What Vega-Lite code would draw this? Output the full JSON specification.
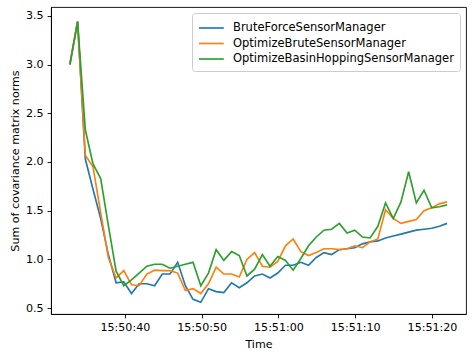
{
  "$schema": "https://vega.github.io/schema/vega-lite/v6.json",
  "width": 415,
  "height": 307,
  "autosize": {"type": "none"},
  "padding": {"left": 51, "top": 7, "right": 8, "bottom": 47},
  "background": "white",
  "config": {
    "font": "DejaVu Sans",
    "view": {"stroke": "black", "strokeWidth": 0.9},
    "axis": {
      "labelFont": "DejaVu Sans", "labelFontSize": 11.1, "labelColor": "black",
      "titleFont": "DejaVu Sans", "titleFontSize": 11.1, "titleFontWeight": "normal", "titleColor": "black",
      "domainColor": "black", "domainWidth": 0.9, "tickColor": "black", "tickWidth": 0.9, "tickSize": 3.9,
      "labelPadding": 4, "grid": false
    }
  },
  "data": {"values": [
    {"t": "2024-01-01T15:50:32.840", "BruteForceSensorManager": 3.00, "OptimizeBruteSensorManager": 3.00, "OptimizeBasinHoppingSensorManager": 3.00},
    {"t": "2024-01-01T15:50:33.840", "BruteForceSensorManager": 3.44, "OptimizeBruteSensorManager": 3.44, "OptimizeBasinHoppingSensorManager": 3.44},
    {"t": "2024-01-01T15:50:34.850", "BruteForceSensorManager": 2.03, "OptimizeBruteSensorManager": 2.07, "OptimizeBasinHoppingSensorManager": 2.33},
    {"t": "2024-01-01T15:50:35.850", "BruteForceSensorManager": 1.72, "OptimizeBruteSensorManager": 1.95, "OptimizeBasinHoppingSensorManager": 1.98},
    {"t": "2024-01-01T15:50:36.850", "BruteForceSensorManager": 1.42, "OptimizeBruteSensorManager": 1.48, "OptimizeBasinHoppingSensorManager": 1.83},
    {"t": "2024-01-01T15:50:37.850", "BruteForceSensorManager": 1.05, "OptimizeBruteSensorManager": 1.02, "OptimizeBasinHoppingSensorManager": 1.35},
    {"t": "2024-01-01T15:50:38.860", "BruteForceSensorManager": 0.76, "OptimizeBruteSensorManager": 0.81, "OptimizeBasinHoppingSensorManager": 0.88},
    {"t": "2024-01-01T15:50:39.860", "BruteForceSensorManager": 0.77, "OptimizeBruteSensorManager": 0.885, "OptimizeBasinHoppingSensorManager": 0.73},
    {"t": "2024-01-01T15:50:40.860", "BruteForceSensorManager": 0.65, "OptimizeBruteSensorManager": 0.74, "OptimizeBasinHoppingSensorManager": 0.79},
    {"t": "2024-01-01T15:50:41.860", "BruteForceSensorManager": 0.75, "OptimizeBruteSensorManager": 0.73, "OptimizeBasinHoppingSensorManager": 0.86},
    {"t": "2024-01-01T15:50:42.870", "BruteForceSensorManager": 0.75, "OptimizeBruteSensorManager": 0.85, "OptimizeBasinHoppingSensorManager": 0.93},
    {"t": "2024-01-01T15:50:43.870", "BruteForceSensorManager": 0.73, "OptimizeBruteSensorManager": 0.89, "OptimizeBasinHoppingSensorManager": 0.95},
    {"t": "2024-01-01T15:50:44.870", "BruteForceSensorManager": 0.85, "OptimizeBruteSensorManager": 0.885, "OptimizeBasinHoppingSensorManager": 0.95},
    {"t": "2024-01-01T15:50:45.880", "BruteForceSensorManager": 0.85, "OptimizeBruteSensorManager": 0.885, "OptimizeBasinHoppingSensorManager": 0.91},
    {"t": "2024-01-01T15:50:46.880", "BruteForceSensorManager": 0.97, "OptimizeBruteSensorManager": 0.86, "OptimizeBasinHoppingSensorManager": 0.93},
    {"t": "2024-01-01T15:50:47.880", "BruteForceSensorManager": 0.73, "OptimizeBruteSensorManager": 0.68, "OptimizeBasinHoppingSensorManager": 0.95},
    {"t": "2024-01-01T15:50:48.880", "BruteForceSensorManager": 0.59, "OptimizeBruteSensorManager": 0.70, "OptimizeBasinHoppingSensorManager": 0.97},
    {"t": "2024-01-01T15:50:49.890", "BruteForceSensorManager": 0.56, "OptimizeBruteSensorManager": 0.65, "OptimizeBasinHoppingSensorManager": 0.73},
    {"t": "2024-01-01T15:50:50.890", "BruteForceSensorManager": 0.70, "OptimizeBruteSensorManager": 0.75, "OptimizeBasinHoppingSensorManager": 0.86},
    {"t": "2024-01-01T15:50:51.890", "BruteForceSensorManager": 0.67, "OptimizeBruteSensorManager": 0.92, "OptimizeBasinHoppingSensorManager": 1.10},
    {"t": "2024-01-01T15:50:52.890", "BruteForceSensorManager": 0.66, "OptimizeBruteSensorManager": 0.85, "OptimizeBasinHoppingSensorManager": 0.99},
    {"t": "2024-01-01T15:50:53.900", "BruteForceSensorManager": 0.76, "OptimizeBruteSensorManager": 0.85, "OptimizeBasinHoppingSensorManager": 1.08},
    {"t": "2024-01-01T15:50:54.900", "BruteForceSensorManager": 0.71, "OptimizeBruteSensorManager": 0.82, "OptimizeBasinHoppingSensorManager": 1.04},
    {"t": "2024-01-01T15:50:55.900", "BruteForceSensorManager": 0.76, "OptimizeBruteSensorManager": 1.00, "OptimizeBasinHoppingSensorManager": 0.83},
    {"t": "2024-01-01T15:50:56.900", "BruteForceSensorManager": 0.83, "OptimizeBruteSensorManager": 1.07, "OptimizeBasinHoppingSensorManager": 0.90},
    {"t": "2024-01-01T15:50:57.910", "BruteForceSensorManager": 0.85, "OptimizeBruteSensorManager": 0.93, "OptimizeBasinHoppingSensorManager": 1.05},
    {"t": "2024-01-01T15:50:58.910", "BruteForceSensorManager": 0.81, "OptimizeBruteSensorManager": 0.92, "OptimizeBasinHoppingSensorManager": 0.93},
    {"t": "2024-01-01T15:50:59.910", "BruteForceSensorManager": 0.86, "OptimizeBruteSensorManager": 0.98, "OptimizeBasinHoppingSensorManager": 1.03},
    {"t": "2024-01-01T15:51:00.920", "BruteForceSensorManager": 0.94, "OptimizeBruteSensorManager": 1.14, "OptimizeBasinHoppingSensorManager": 0.99},
    {"t": "2024-01-01T15:51:01.920", "BruteForceSensorManager": 0.94, "OptimizeBruteSensorManager": 1.21, "OptimizeBasinHoppingSensorManager": 0.89},
    {"t": "2024-01-01T15:51:02.920", "BruteForceSensorManager": 0.97, "OptimizeBruteSensorManager": 1.08, "OptimizeBasinHoppingSensorManager": 1.01},
    {"t": "2024-01-01T15:51:03.920", "BruteForceSensorManager": 0.94, "OptimizeBruteSensorManager": 1.04, "OptimizeBasinHoppingSensorManager": 1.14},
    {"t": "2024-01-01T15:51:04.930", "BruteForceSensorManager": 1.02, "OptimizeBruteSensorManager": 1.07, "OptimizeBasinHoppingSensorManager": 1.23},
    {"t": "2024-01-01T15:51:05.930", "BruteForceSensorManager": 1.07, "OptimizeBruteSensorManager": 1.11, "OptimizeBasinHoppingSensorManager": 1.30},
    {"t": "2024-01-01T15:51:06.930", "BruteForceSensorManager": 1.05, "OptimizeBruteSensorManager": 1.11, "OptimizeBasinHoppingSensorManager": 1.31},
    {"t": "2024-01-01T15:51:07.930", "BruteForceSensorManager": 1.10, "OptimizeBruteSensorManager": 1.10, "OptimizeBasinHoppingSensorManager": 1.37},
    {"t": "2024-01-01T15:51:08.940", "BruteForceSensorManager": 1.11, "OptimizeBruteSensorManager": 1.11, "OptimizeBasinHoppingSensorManager": 1.27},
    {"t": "2024-01-01T15:51:09.940", "BruteForceSensorManager": 1.12, "OptimizeBruteSensorManager": 1.14, "OptimizeBasinHoppingSensorManager": 1.30},
    {"t": "2024-01-01T15:51:10.940", "BruteForceSensorManager": 1.16, "OptimizeBruteSensorManager": 1.12, "OptimizeBasinHoppingSensorManager": 1.23},
    {"t": "2024-01-01T15:51:11.940", "BruteForceSensorManager": 1.18, "OptimizeBruteSensorManager": 1.18, "OptimizeBasinHoppingSensorManager": 1.22},
    {"t": "2024-01-01T15:51:12.950", "BruteForceSensorManager": 1.19, "OptimizeBruteSensorManager": 1.21, "OptimizeBasinHoppingSensorManager": 1.34},
    {"t": "2024-01-01T15:51:13.950", "BruteForceSensorManager": 1.22, "OptimizeBruteSensorManager": 1.51, "OptimizeBasinHoppingSensorManager": 1.58},
    {"t": "2024-01-01T15:51:14.950", "BruteForceSensorManager": 1.24, "OptimizeBruteSensorManager": 1.42, "OptimizeBasinHoppingSensorManager": 1.42},
    {"t": "2024-01-01T15:51:15.960", "BruteForceSensorManager": 1.26, "OptimizeBruteSensorManager": 1.37, "OptimizeBasinHoppingSensorManager": 1.59},
    {"t": "2024-01-01T15:51:16.960", "BruteForceSensorManager": 1.28, "OptimizeBruteSensorManager": 1.39, "OptimizeBasinHoppingSensorManager": 1.90},
    {"t": "2024-01-01T15:51:17.960", "BruteForceSensorManager": 1.30, "OptimizeBruteSensorManager": 1.41, "OptimizeBasinHoppingSensorManager": 1.58},
    {"t": "2024-01-01T15:51:18.960", "BruteForceSensorManager": 1.31, "OptimizeBruteSensorManager": 1.50, "OptimizeBasinHoppingSensorManager": 1.71},
    {"t": "2024-01-01T15:51:19.970", "BruteForceSensorManager": 1.32, "OptimizeBruteSensorManager": 1.53, "OptimizeBasinHoppingSensorManager": 1.53},
    {"t": "2024-01-01T15:51:20.970", "BruteForceSensorManager": 1.34, "OptimizeBruteSensorManager": 1.57, "OptimizeBasinHoppingSensorManager": 1.54},
    {"t": "2024-01-01T15:51:21.970", "BruteForceSensorManager": 1.37, "OptimizeBruteSensorManager": 1.59, "OptimizeBasinHoppingSensorManager": 1.56}
  ]},
  "transform": [
    {"fold": ["BruteForceSensorManager", "OptimizeBruteSensorManager", "OptimizeBasinHoppingSensorManager"], "as": ["series", "value"]}
  ],
  "mark": {"type": "line", "strokeWidth": 1.65, "clip": true},
  "encoding": {
    "x": {
      "field": "t", "type": "temporal", "title": "Time",
      "scale": {"domain": [
        {"year": 2024, "month": 1, "date": 1, "hours": 15, "minutes": 50, "seconds": 30, "milliseconds": 380},
        {"year": 2024, "month": 1, "date": 1, "hours": 15, "minutes": 51, "seconds": 24, "milliseconds": 430}
      ]},
      "axis": {
        "values": [
          {"year": 2024, "month": 1, "date": 1, "hours": 15, "minutes": 50, "seconds": 40},
          {"year": 2024, "month": 1, "date": 1, "hours": 15, "minutes": 50, "seconds": 50},
          {"year": 2024, "month": 1, "date": 1, "hours": 15, "minutes": 51, "seconds": 0},
          {"year": 2024, "month": 1, "date": 1, "hours": 15, "minutes": 51, "seconds": 10},
          {"year": 2024, "month": 1, "date": 1, "hours": 15, "minutes": 51, "seconds": 20}
        ],
        "format": "%H:%M:%S", "labelFlush": false, "titlePadding": 5
      }
    },
    "y": {
      "field": "value", "type": "quantitative", "title": "Sum of covariance matrix norms",
      "scale": {"domain": [0.44, 3.59], "nice": false, "zero": false},
      "axis": {"values": [0.5, 1.0, 1.5, 2.0, 2.5, 3.0, 3.5], "format": ".1f", "labelFlush": false, "titlePadding": 5}
    },
    "color": {
      "field": "series", "type": "nominal",
      "scale": {
        "domain": ["BruteForceSensorManager", "OptimizeBruteSensorManager", "OptimizeBasinHoppingSensorManager"],
        "range": ["#1f77b4", "#ff7f0e", "#2ca02c"]
      },
      "legend": {
        "title": null, "orient": "top-right", "offset": 6,
        "symbolType": "M-1,0H2.1", "symbolSize": 256, "symbolStrokeWidth": 1.65,
        "labelFont": "DejaVu Sans", "labelFontSize": 11.5, "labelColor": "black", "labelOffset": 17, "labelLimit": 400,
        "rowPadding": 0.5, "padding": 6,
        "strokeColor": "#cccccc", "fillColor": "rgba(255,255,255,0.8)", "cornerRadius": 3
      }
    }
  }
}
